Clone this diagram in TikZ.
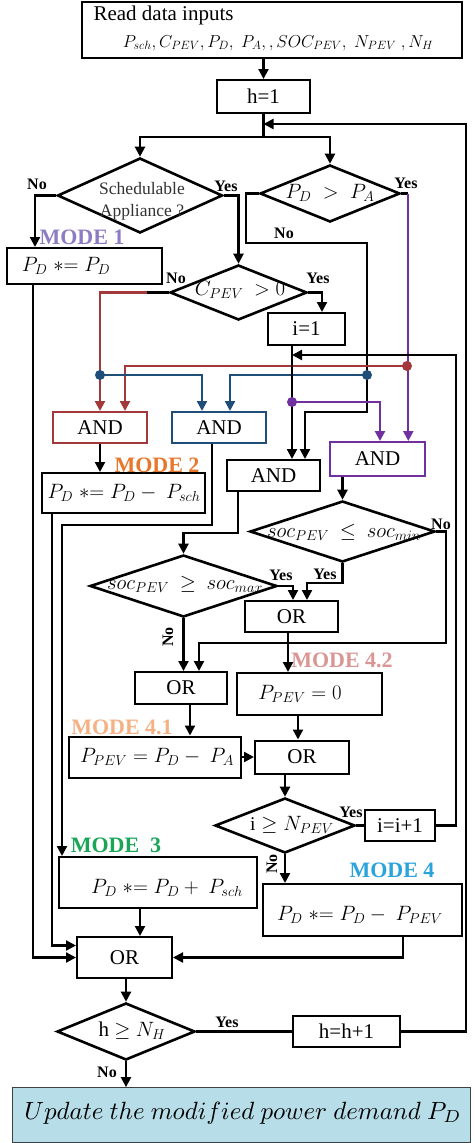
\documentclass[tikz,border=0pt]{standalone}
\usepackage{fontspec}
\usepackage{graphicx}
\setmainfont{Liberation Serif}
\usetikzlibrary{shapes.geometric,arrows.meta}
\definecolor{cred}{HTML}{A3383A}
\definecolor{cblu}{HTML}{1F4E79}
\definecolor{cpur}{HTML}{7030A0}
\definecolor{mone}{HTML}{8E7CC3}
\definecolor{mtwo}{HTML}{E8762B}
\definecolor{mfourtwo}{HTML}{D99694}
\definecolor{mfourone}{HTML}{F4B183}
\definecolor{mthree}{HTML}{1AA557}
\definecolor{mfour}{HTML}{2BA3DC}
\definecolor{cfin}{HTML}{B7DDE8}
\begin{document}
\begin{tikzpicture}[x=1pt,y=-1pt]
\tikzset{
 bx/.style={draw, line width=2pt, inner sep=0pt, font=\fontsize{21}{24}\selectfont},
 dm/.style={draw, diamond, line width=2.6pt, inner sep=0pt},
 ln/.style={line width=2.1pt},
 ar/.style={line width=2.2pt, -{Triangle[length=10pt,width=10pt]}},
 yn/.style={font=\fontsize{16}{18}\selectfont\bfseries},
 modelbl/.style={font=\fontsize{22}{24}\selectfont\bfseries},
 mth/.style={font=\fontsize{19.5}{22}\selectfont},
}
\useasboundingbox (0,0) rectangle (474,1143);
% helper x coordinates
\foreach \xx in {33,35,52,62,125,140,190,199,202,212,230,238,288,292,293,298,305,322,380,403}{
  \coordinate (x\xx) at (\xx,0);
}
% ---------- nodes ----------
\node[bx, minimum width=380pt, minimum height=56pt] (read) at (272,30) {};
\node[anchor=west, font=\fontsize{21}{24}\selectfont] (readt) at (90,15) {Read data inputs};
\node[font=\fontsize{18.5}{20}\selectfont] (readm) at (278,43) {$P_{sch}, C_{PEV}, P_D,\ P_A,, SOC_{PEV},\ N_{PEV}\ , N_H$};
\node[bx, minimum width=93pt, minimum height=33pt] (h1) at (263.5,96.5) {h=1};

\node[dm, minimum width=165pt, minimum height=75pt] (dS) at (140,195.5) {};
\node[font=\fontsize{17.5}{22}\selectfont, text=black!80, align=center] (dSt) at (142,201) {Schedulable\\Appliance ?};
\node[dm, minimum width=140pt, minimum height=57pt] (dA) at (330,193.5) {};
\node[mth] (dAt) at (330,193) {$P_D\; >\; P_A$};

\node[bx, minimum width=155pt, minimum height=36pt] (m1) at (84.5,266) {};
\node[mth] (m1t) at (66,266) {$P_D\;{*}{=}\;P_D$};
\node[modelbl, text=mone] (m1l) at (82,237) {MODE 1};

\node[dm, minimum width=137pt, minimum height=55pt] (dC) at (238.5,292.5) {};
\node[mth] (dCt) at (240,290) {$C_{PEV}\ > 0$};
\node[bx, minimum width=77pt, minimum height=32pt] (i1) at (306.5,329) {i=1};

\node[bx, draw=cred, minimum width=94pt, minimum height=31pt] (andR) at (100,427.5) {AND};
\node[bx, draw=cblu, minimum width=94pt, minimum height=31pt] (andB) at (219,427.5) {AND};
\node[bx, draw=cpur, minimum width=95pt, minimum height=34pt] (andP) at (377.5,459) {AND};
\node[bx, minimum width=93pt, minimum height=31pt] (andK) at (273.5,475.5) {AND};

\node[bx, minimum width=163pt, minimum height=40pt] (m2) at (123.5,493) {};
\node[mth] (m2t) at (124,493) {$P_D\;{*}{=}\;P_D -\ P_{sch}$};
\node[modelbl, text=mtwo] (m2l) at (157,465) {MODE 2};

\node[dm, minimum width=185pt, minimum height=61pt] (dMin) at (342.5,531.5) {};
\node[mth] (dMint) at (344,532) {$soc_{PEV}\ \le\ soc_{min}$};
\node[dm, minimum width=187pt, minimum height=62pt] (dMax) at (183.5,586) {};
\node[mth] (dMaxt) at (185,584) {$soc_{PEV}\ \ge\ soc_{max}$};

\node[bx, minimum width=93pt, minimum height=31pt] (orM) at (291.5,616.5) {OR};
\node[bx, minimum width=92pt, minimum height=32pt] (orL) at (181,688) {OR};
\node[bx, minimum width=145pt, minimum height=42pt] (m42) at (309.5,694) {};
\node[mth] (m42t) at (300,694) {$P_{PEV} = 0$};
\node[modelbl, text=mfourtwo] (m42l) at (342,660) {MODE 4.2};

\node[bx, minimum width=172pt, minimum height=41pt] (m41) at (155,757) {};
\node[mth] (m41t) at (157,757) {$P_{PEV} = P_D -\ P_A$};
\node[modelbl, text=mfourone] (m41l) at (122,727) {MODE 4.1};
\node[bx, minimum width=94pt, minimum height=33pt] (orR) at (302,757) {OR};

\node[dm, minimum width=140pt, minimum height=55pt] (dI) at (285,825.5) {};
\node[mth] (dIt) at (292,825) {$\mathrm{i} \geq N_{PEV}$};
\node[bx, minimum width=70pt, minimum height=31pt] (ii1) at (400,825.5) {i=i+1};

\node[bx, minimum width=198pt, minimum height=51pt] (m3) at (158,882.5) {};
\node[mth] (m3t) at (167,888) {$P_D\;{*}{=}\;P_D +\ P_{sch}$};
\node[modelbl, text=mthree] (m3l) at (116,845) {MODE\ \ 3};

\node[bx, minimum width=199pt, minimum height=52pt] (m4) at (362.5,910) {};
\node[mth] (m4t) at (360,915) {$P_D\;{*}{=}\;P_D -\ P_{PEV}$};
\node[modelbl, text=mfour] (m4l) at (392,870) {MODE 4};

\node[bx, minimum width=95pt, minimum height=41pt] (orB) at (124.5,957.5) {OR};
\node[dm, minimum width=138pt, minimum height=57pt] (dH) at (126,1031.5) {};
\node[font=\fontsize{21}{24}\selectfont] (dHt) at (132,1031) {h $\geq$ $N_H$};
\node[bx, minimum width=107pt, minimum height=31pt] (hh1) at (346.5,1031.5) {h=h+1};

\node[draw=black!75, fill=cfin, line width=0.8pt, minimum width=458pt, minimum height=55pt, inner sep=0pt] (fin) at (241,1115) {};
\node (fint) at (243,1113) {\resizebox{437pt}{!}{$Update\ the\ modified\ power\ demand\ P_D$}};

% ---------- coordinates ----------
\coordinate (j1) at (263.5,137);
\coordinate (jh) at (263.5,124);
\coordinate (hc) at (466,124);
\coordinate (ic) at (456,355);
\coordinate (il) at (292,355);
\coordinate (rd) at (407,366);
\coordinate (bd1) at (100,375);
\coordinate (bd2) at (367,375);
\coordinate (pd) at (292,402);
\coordinate (b3) at (62,525);
\coordinate (k3) at (183.5,533);
\coordinate (n3) at (199,643);
\coordinate (y3) at (307,583);

% ---------- connectors ----------
\draw[ar] (read.south -| h1.north) -- (h1.north);
\draw[ln] (h1.south) -- (j1);
\draw[ar] (j1) -| (dS.north);
\draw[ar] (j1) -| (dA.north);
\draw[ar] (hh1.east) -| (hc) -- (jh);

\draw[ar] (dS.west) -| (m1.north -| x35);
\draw[ar] (dS.east) -| (dC.north);

\draw[ar] (dA.west) -- ++(-13,0) |- (367,243) -- (367,412) -| (andK.north -| x305);
\draw[ln] (dA.east) -- ++(7,0) coordinate (pA);
\draw[ar, cpur] (pA) -- (andP.north -| pA);

\draw[ln] (dC.west) -- ++(-22,0) coordinate (c0);
\draw[ar, cred] (c0) -| (andR.north);
\draw[ar] (dC.east) -| (i1.north -| x322);

\draw[ar, cred] (rd) -| (andR.north -| x125);
\draw[ar, cblu] (bd1) -| (andB.north -| x202);
\draw[ar, cblu] (bd2) -| (andB.north -| x230);

\draw[ar] (i1.south -| x292) -- (andK.north -| x292);
\draw[ar] (ii1.east) -| (ic) -- (il);
\draw[ar, cpur] (pd) -| (andP.north -| x380);

\draw[ar] (andR.south) -- (andR.south |- m2.north);
\draw[ar] (andB.south -| x212) |- (b3) -- (m3.north -| b3);
\draw[ar] (andK.south -| x238) |- (k3) -- (dMax.north);
\draw[ar] (andP.south -| dMin.north) -- (dMin.north);

\draw[ar] (dMin.east) -- ++(10,0) |- (n3) -- (orL.north -| n3);
\draw[ar] (dMin.south) |- (y3) -- (orM.north -| y3);
\draw[ar] (dMax.east) -| (orM.north -| x293);
\draw[ar] (dMax.south) -- (orL.north -| dMax.south);

\draw[ar] (orM.south -| x288) -- (m42.north -| x288);
\draw[ar] (orL.south -| x190) -- (m41.north -| x190);
\draw[ar] (m42.south -| x298) -- (orR.north -| x298);
\draw[ar] (m41.east) -- (orR.west);
\draw[ar] (orR.south -| dI.north) -- (dI.north);
\draw[ln] (dI.east) -- (ii1.west);
\draw[ar] (dI.south) -- (m4.north -| dI.south);

\draw[ar] (m4.south -| x403) |- (orB.east);
\draw[ar] (m3.south -| x140) -- (orB.north -| x140);
\draw[ar] (m2.south -| x52) |- ([yshift=12pt]orB.west);
\draw[ar] (m1.south -| x33) |- (orB.west);
\draw[ar] (orB.south -| dH.north) -- (dH.north);
\draw[ln] (dH.east) -- (hh1.west);
\draw[ar] (dH.south) -- (fin.north -| dH.south);

% dots
\fill[cred] (rd) circle (5);
\fill[cblu] (bd1) circle (5);
\fill[cblu] (bd2) circle (5);
\fill[cpur] (pd) circle (5);

% Yes / No labels
\node[yn] (l1) at (37,184) {No};
\node[yn] (l2) at (226,186) {Yes};
\node[yn] (l3) at (406,183) {Yes};
\node[yn] (l4) at (284,233) {No};
\node[yn] (l5) at (176,278) {No};
\node[yn] (l6) at (318,278) {Yes};
\node[yn] (l7) at (441,524) {No};
\node[yn] (l8) at (325,574) {Yes};
\node[yn] (l9) at (281,575) {Yes};
\node[yn, rotate=90] (l10) at (168,637) {No};
\node[yn] (l11) at (351,812) {Yes};
\node[yn, rotate=90] (l12) at (272,864) {No};
\node[yn] (l13) at (227,1022) {Yes};
\node[yn] (l14) at (107,1072) {No};
\end{tikzpicture}
\end{document}
